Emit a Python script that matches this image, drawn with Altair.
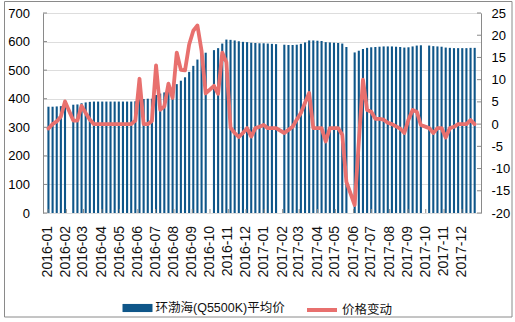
import altair as alt
import pandas as pd

FONT = "Liberation Sans, Noto Sans CJK SC"
BAR_NAME = "环渤海(Q5500K)平均价"
LINE_NAME = "价格变动"
BLUE = "#0F5689"
RED = "#E8706E"
GREY = "#8a8a8a"

# weekly observation dates (holiday weeks have no quote)
dates = [
    "2016/01/06", "2016/01/13", "2016/01/20", "2016/01/27", "2016/02/03",
    "2016/02/17", "2016/02/24",
    "2016/03/02", "2016/03/09", "2016/03/16", "2016/03/23", "2016/03/30",
    "2016/04/06", "2016/04/13", "2016/04/20", "2016/04/27",
    "2016/05/04", "2016/05/11", "2016/05/18", "2016/05/25",
    "2016/06/01", "2016/06/08", "2016/06/15", "2016/06/22", "2016/06/29",
    "2016/07/06", "2016/07/13", "2016/07/20", "2016/07/27",
    "2016/08/03", "2016/08/10", "2016/08/17", "2016/08/24", "2016/08/31",
    "2016/09/07", "2016/09/14", "2016/09/21", "2016/09/28",
    "2016/10/12", "2016/10/19", "2016/10/26",
    "2016/11/02", "2016/11/09", "2016/11/16", "2016/11/23", "2016/11/30",
    "2016/12/07", "2016/12/14", "2016/12/21", "2016/12/28",
    "2017/01/04", "2017/01/11", "2017/01/18", "2017/01/25",
    "2017/02/08", "2017/02/15", "2017/02/22",
    "2017/03/01", "2017/03/08", "2017/03/15", "2017/03/22", "2017/03/29",
    "2017/04/05", "2017/04/12", "2017/04/19", "2017/04/26",
    "2017/05/03", "2017/05/10", "2017/05/17", "2017/05/24",
    "2017/06/07", "2017/06/14", "2017/06/21", "2017/06/28",
    "2017/07/05", "2017/07/12", "2017/07/19", "2017/07/26",
    "2017/08/02", "2017/08/09", "2017/08/16", "2017/08/23", "2017/08/30",
    "2017/09/06", "2017/09/13", "2017/09/20", "2017/09/27",
    "2017/10/11", "2017/10/18", "2017/10/25",
    "2017/11/01", "2017/11/08", "2017/11/15", "2017/11/22", "2017/11/29",
    "2017/12/06", "2017/12/13", "2017/12/20", "2017/12/27",
]

# average price, yuan/ton (left axis)
price = [
    372, 372, 373, 374, 378,
    379, 380,
    384, 387, 389, 390, 390,
    390, 390, 390, 390,
    390, 390, 390, 390,
    391, 399, 399, 400, 400,
    413, 418, 422, 430,
    436, 451, 463, 475, 494,
    515, 537, 554, 561,
    570, 577, 593,
    607, 606, 604, 601, 599,
    598, 596, 595, 594,
    594, 593, 592, 591,
    589, 588, 588,
    589, 592, 597, 604, 604,
    603, 602, 598, 597,
    596, 595, 593, 581,
    562, 568, 574, 578,
    580, 581, 582, 583,
    583, 583, 582, 581, 579,
    580, 583, 586, 587,
    586, 584, 583,
    582, 579, 578, 577, 577,
    577, 577, 578, 578,
]

# week-on-week change (right axis)
change = [
    -1.0, 0.0, 0.6, 1.7, 5.1,
    0.8, 0.8,
    4.1, 2.5, 1.0, 0.0, 0.0,
    0.0, 0.0, 0.0, 0.0,
    0.0, 0.0, 0.0, 0.0,
    0.8, 10.2, 0.0, 0.0, 0.7,
    13.2, 3.2, 4.0, 9.1,
    5.9, 16.1, 12.2, 12.1, 17.9,
    21.0, 22.2, 16.5, 6.9,
    8.6, 6.8, 16.1,
    13.9, -0.8, -2.0, -2.9, -2.0,
    -0.9, -2.8, -0.9, -0.6,
    -0.2, -0.9, -0.9, -0.9,
    -2.0, -1.3, -0.6,
    1.0, 2.5, 4.8, 7.0, -0.9,
    -0.9, -0.9, -3.9, -0.9,
    -0.9, -0.9, -2.4, -13.0,
    -18.2, -4.0, 10.0, 3.2,
    2.8, 1.2, 1.2, 1.0,
    0.3, 0.0, -0.5, -1.0, -2.0,
    1.0, 3.2, 2.8, -0.2,
    -0.9, -2.0, -0.9,
    -0.9, -3.0, -0.9, -0.6, 0.0,
    0.0, 0.0, 0.9, 0.0,
]

month_labels = [
    "2016-01", "2016-02", "2016-03", "2016-04", "2016-05", "2016-06",
    "2016-07", "2016-08", "2016-09", "2016-10", "2016-11", "2016-12",
    "2017-01", "2017-02", "2017-03", "2017-04", "2017-05", "2017-06",
    "2017-07", "2017-08", "2017-09", "2017-10", "2017-11", "2017-12",
]
left_ticks = [0, 100, 200, 300, 400, 500, 600, 700]
right_ticks = [-20, -15, -10, -5, 0, 5, 10, 15, 20, 25]

W, H = 438, 200

df = pd.DataFrame({"date": dates, "price": price, "change": change})
df["s1"] = BAR_NAME
df["s2"] = LINE_NAME

month_df = pd.DataFrame({
    "m": [m.replace("-", "/") + "/01" for m in month_labels],
    "label": month_labels,
})

x_scale = alt.Scale(domain=[alt.DateTime(year=2016, month=1, date=1),
                            alt.DateTime(year=2017, month=12, date=25)])
y_left = alt.Scale(domain=[0, 700], nice=False)
y_right = alt.Scale(domain=[-20, 25], nice=False)

# the time axis keeps only its baseline; month labels are a text layer below
x_axis = alt.Axis(labels=False, ticks=False, title=None, domainColor=GREY)

bars = alt.Chart(df).mark_bar(width=2.1, xOffset=-2.5).encode(
    x=alt.X("date:T", scale=x_scale, axis=x_axis),
    y=alt.Y("price:Q", scale=y_left,
            axis=alt.Axis(values=left_ticks, ticks=False, labelPadding=13.5, title=None,
                          labelFontSize=13, domainColor=GREY)),
    color=alt.Color("s1:N", scale=alt.Scale(domain=[BAR_NAME], range=[BLUE]),
                    legend=alt.Legend(orient="none", legendX=79.5, legendY=280, title=None,
                                      symbolType="M-1,-0.27H1V0.27H-1Z", symbolSize=900,
                                      symbolStrokeWidth=0, labelFontSize=12.5, labelOffset=3,
                                      padding=0, labelFont=FONT, labelColor="#111")),
)

line = alt.Chart(df).mark_line(strokeWidth=3.8, xOffset=-2.5, strokeJoin="round",
                               strokeCap="round").encode(
    x=alt.X("date:T", scale=x_scale, axis=None),
    y=alt.Y("change:Q", scale=y_right,
            axis=alt.Axis(orient="right", values=right_ticks, ticks=False, labelPadding=10,
                          title=None, labelFontSize=13, domainColor=GREY,
                          labelExpr="toString(datum.value)")),
    stroke=alt.Stroke("s2:N", scale=alt.Scale(domain=[LINE_NAME], range=[RED]),
                      legend=alt.Legend(orient="none", legendX=262, legendY=280, title=None,
                                        symbolType="stroke", symbolSize=900,
                                        symbolStrokeWidth=4, labelFontSize=12.5,
                                        labelOffset=3, padding=0, labelFont=FONT,
                                        labelColor="#111")),
)

# inward tick marks on the three axes
lt = alt.Chart(pd.DataFrame({"v": left_ticks})).mark_rule(color=GREY).encode(
    y=alt.Y("v:Q", scale=y_left, axis=None), x=alt.value(0), x2=alt.value(4))
rt = alt.Chart(pd.DataFrame({"v": right_ticks})).mark_rule(color=GREY).encode(
    y=alt.Y("v:Q", scale=y_right, axis=None), x=alt.value(W - 4), x2=alt.value(W))
bt = alt.Chart(month_df).mark_rule(color=GREY).encode(
    x=alt.X("m:T", scale=x_scale, axis=None), y=alt.value(H - 4), y2=alt.value(H))

# month labels, read bottom to top
mt = alt.Chart(month_df).mark_text(
    angle=270, align="right", baseline="middle", font=FONT, fontSize=14, color="#111"
).encode(
    x=alt.X("m:T", scale=x_scale, axis=None), y=alt.value(H + 13), text="label:N")

frame = alt.Chart(pd.DataFrame({"k": [0]})).mark_rect(
    fillOpacity=0, stroke=GREY, strokeWidth=1).encode(
    x=alt.value(-38.5), x2=alt.value(469), y=alt.value(-11.5), y2=alt.value(304))

chart = alt.layer(bars, lt, line, rt, bt, mt, frame).resolve_scale(
    y="independent", color="independent", stroke="independent"
).properties(
    width=W, height=H, autosize="none",
    padding={"left": 43, "top": 13, "right": 34, "bottom": 109},
).configure_view(stroke=None).configure_axis(
    labelFont=FONT, labelColor="#111", grid=False
).configure(background="white")

chart.save("out.html", embed_options={"renderer": "svg", "actions": False})
